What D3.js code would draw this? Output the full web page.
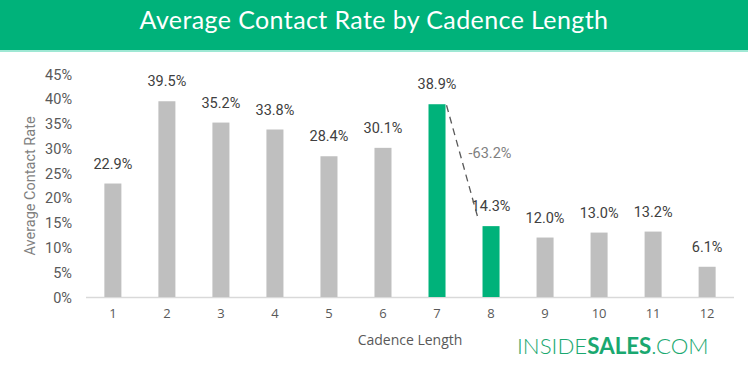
<!DOCTYPE html>
<html><head><meta charset="utf-8">
<script src="https://cdn.jsdelivr.net/npm/d3@7"></script>
<style>body{margin:0;background:#fff;}svg{display:block;}</style>
</head><body>
<script>
const categories = ["1","2","3","4","5","6","7","8","9","10","11","12"];
const values = [22.9, 39.5, 35.2, 33.8, 28.4, 30.1, 38.9, 14.3, 12.0, 13.0, 13.2, 6.1];
const highlighted = ["7","8"];
const yTicks = [0,5,10,15,20,25,30,35,40,45];
const dropLabel = "-63.2%";

const W = 748, H = 368;
const svg = d3.select("body").append("svg").attr("width", W).attr("height", H);

// header
svg.append("rect").attr("x",0).attr("y",0).attr("width",W).attr("height",50).attr("fill","#00b27a");
svg.append("rect").attr("x",0).attr("y",50).attr("width",W).attr("height",2).attr("fill","#9fe8d4");
svg.append("text").attr("x",374).attr("y",28.5).attr("text-anchor","middle")
  .attr("font-family","Lato, 'Open Sans', sans-serif").attr("font-size",25).attr("letter-spacing",0.4).attr("fill","#fff")
  .text("Average Contact Rate by Cadence Length");

const x = d3.scaleBand().domain(categories).range([86, 734]).paddingInner(0.685).paddingOuter(0.34);
const y = d3.scaleLinear().domain([0,45]).range([297, 74]);

const font = "Roboto, 'Liberation Sans', Arial, sans-serif";

// y tick labels
const yAxis = d3.axisLeft(y).tickValues(yTicks).tickFormat(d => d + "%").tickSize(0).tickPadding(0);
const gy = svg.append("g").attr("transform","translate(72,0)").call(yAxis);
gy.select(".domain").remove();
gy.selectAll("text").attr("font-family",font).attr("font-size",14.5).attr("fill","#595959").attr("dy","0.35em");

// x axis
const xAxis = d3.axisBottom(x).tickSize(0).tickPadding(12);
const gx = svg.append("g").attr("transform","translate(0,297)").call(xAxis);
gx.select(".domain").attr("stroke","#d9d9d9").attr("stroke-width",1.5).attr("d","M86,0.5H734");
gx.selectAll("text").attr("font-family","'Open Sans', sans-serif").attr("font-size",13).attr("fill","#595959");

// bars
svg.append("g").selectAll("rect").data(values).join("rect")
  .attr("x",(d,i)=>x(categories[i])).attr("width",x.bandwidth())
  .attr("y",d=>y(d)).attr("height",d=>y(0)-y(d))
  .attr("fill",(d,i)=>highlighted.includes(categories[i]) ? "#00b27a" : "#bfbfbf");

// value labels
svg.append("g").selectAll("text").data(values).join("text")
  .attr("x",(d,i)=>x(categories[i])+x.bandwidth()/2).attr("y",d=>y(d)-15)
  .attr("text-anchor","middle").attr("font-family",font).attr("font-size",14.5).attr("fill","#404040")
  .text(d=>d.toFixed(1)+"%");

// dashed drop line
const i7 = categories.indexOf("7"), i8 = categories.indexOf("8");
const x1 = x("7")+x.bandwidth()+1, y1 = y(values[i7])+1;
const x2 = x("8")-4, y2 = y(values[i8])-6;
svg.append("line").attr("x1",x1).attr("y1",y1).attr("x2",x2).attr("y2",y2)
  .attr("stroke","#595959").attr("stroke-width",1.3).attr("stroke-dasharray","7,5");
svg.append("text").attr("x",x1+22).attr("y",y1+53).attr("font-family",font)
  .attr("font-size",14.5).attr("fill","#7f7f7f").text(dropLabel);

// axis titles
svg.append("text").attr("transform","translate(35,186) rotate(-90)").attr("text-anchor","middle")
  .attr("font-family",font).attr("font-size",14.5).attr("fill","#7f7f7f").text("Average Contact Rate");
svg.append("text").attr("x",410).attr("y",345).attr("text-anchor","middle")
  .attr("font-family","'Open Sans', sans-serif").attr("font-size",14).attr("fill","#595959").text("Cadence Length");

// logo
const logo = svg.append("text").attr("x",517).attr("y",354).attr("font-family","Lato, 'Open Sans', sans-serif")
  .attr("font-size",22.3).attr("fill","#1aa870");
logo.append("tspan").attr("font-weight",300).text("INSIDE");
logo.append("tspan").attr("font-weight",700).text("SALES");
logo.append("tspan").attr("font-weight",300).text(".COM");
</script>
</body></html>
